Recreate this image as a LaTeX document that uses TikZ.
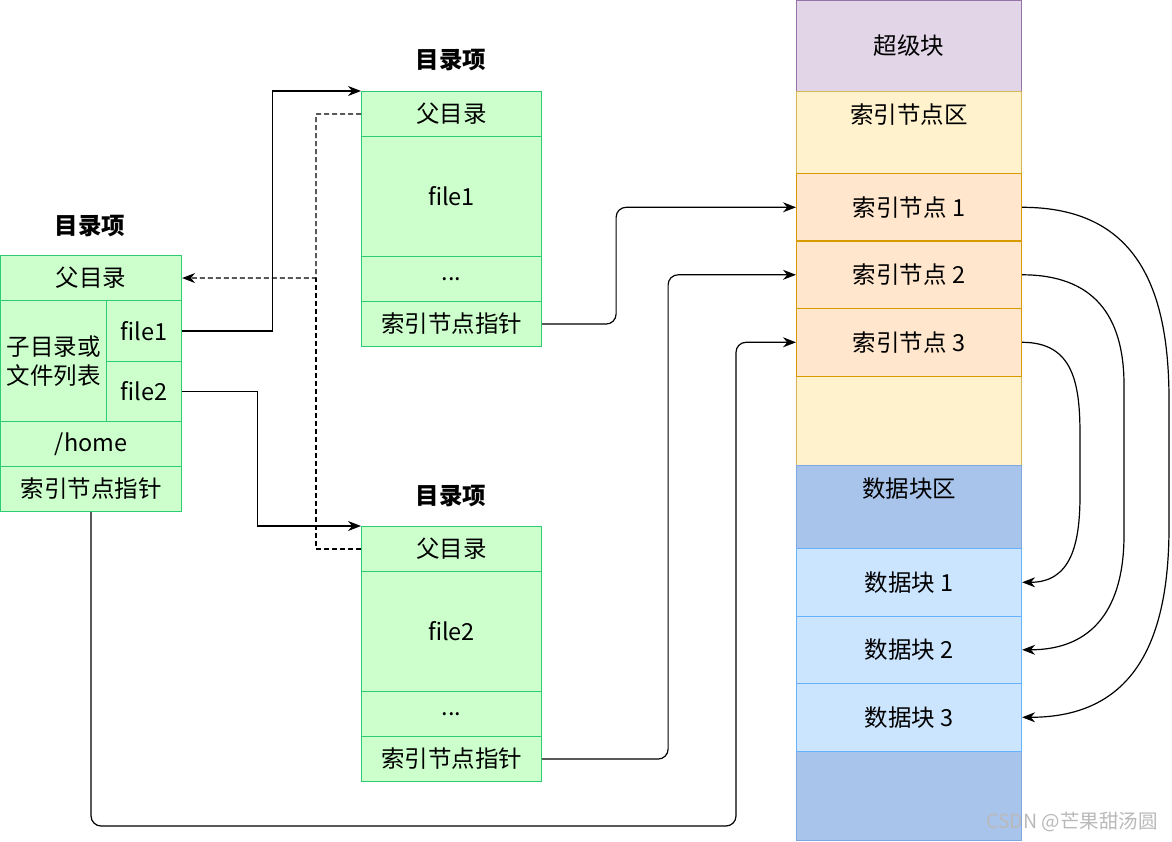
\documentclass[tikz,border=0pt]{standalone}
\usepackage{fontspec}
\setmainfont{Noto Sans CJK SC}
\usetikzlibrary{arrows.meta}

\definecolor{greenfill}{HTML}{CCFFCC}
\definecolor{greenline}{HTML}{2ECC71}
\definecolor{purplefill}{HTML}{E1D5E7}
\definecolor{purpleline}{HTML}{9673A6}
\definecolor{yellowfill}{HTML}{FFF2CC}
\definecolor{yellowline}{HTML}{D6B656}
\definecolor{orangefill}{HTML}{FFE6CC}
\definecolor{orangeline}{HTML}{D79B00}
\definecolor{bluefill}{HTML}{A9C4EB}
\definecolor{blueline}{HTML}{7EA6E0}
\definecolor{lightbluefill}{HTML}{CCE5FF}
\definecolor{lightblueline}{HTML}{66B2FF}

\tikzset{
  cell/.style={draw, line width=1.1pt, inner sep=0pt, anchor=north west,
    minimum width=180pt, font=\fontsize{23.5}{29}\selectfont},
  greencell/.style={cell, draw=greenline, fill=greenfill},
  purplecell/.style={cell, draw=purpleline, fill=purplefill, minimum width=225pt},
  yellowcell/.style={cell, draw=yellowline, fill=yellowfill, minimum width=225pt},
  inodecell/.style={cell, draw=orangeline, fill=orangefill, minimum width=225pt, minimum height=67.5pt},
  bluecell/.style={cell, draw=blueline, fill=bluefill, minimum width=225pt},
  datacell/.style={cell, draw=lightblueline, fill=lightbluefill, minimum width=225pt, minimum height=67.5pt},
  title/.style={font=\fontsize{23.5}{28}\selectfont\bfseries},
  link/.style={line width=1.2pt, -{Stealth[length=13pt,width=10pt]}},
  backlink/.style={line width=1.2pt, dashed, dash pattern=on 5pt off 3pt},
}

\begin{document}
\begin{tikzpicture}[x=1pt, y=-1pt]
  \useasboundingbox (0,0) rectangle (1172,842);

  % Directory entry on the left
  \node[title] (ltitle) at (90,226) {目录项};
  \node[greencell, minimum width=181pt, minimum height=45pt] (lparent) at (0,255) {父目录};
  \node[greencell, minimum width=106pt, minimum height=121pt, align=center] (llist) at (0,300) {子目录或\\文件列表};
  \node[greencell, minimum width=75pt, minimum height=61pt] (lfileone) at (106,300) {file1};
  \node[greencell, minimum width=75pt, minimum height=60pt] (lfiletwo) at (106,361) {file2};
  \node[greencell, minimum width=181pt, minimum height=45pt] (lhome) at (0,421) {/home};
  \node[greencell, minimum width=181pt, minimum height=45pt] (lptr) at (0,466) {索引节点指针};

  % Directory entry of file1
  \node[title] (ttitle) at (451,60) {目录项};
  \node[greencell, minimum height=45pt] (tparent) at (361,91) {父目录};
  \node[greencell, minimum height=120pt] (tfile) at (361,136) {file1};
  \node[greencell, minimum height=45pt] (tdots) at (361,256) {...};
  \node[greencell, minimum height=45pt] (tptr) at (361,301) {索引节点指针};

  % Directory entry of file2
  \node[title] (btitle) at (451,496) {目录项};
  \node[greencell, minimum height=45pt] (bparent) at (361,526) {父目录};
  \node[greencell, minimum height=120pt] (bfile) at (361,571) {file2};
  \node[greencell, minimum height=45pt] (bdots) at (361,691) {...};
  \node[greencell, minimum height=45pt] (bptr) at (361,736) {索引节点指针};

  % Disk layout
  \node[purplecell, minimum height=91pt] (sblock) at (796,0) {超级块};
  \node[yellowcell, minimum height=374pt,
    label={[anchor=north, inner sep=0pt, yshift=-13pt, font=\fontsize{23.5}{28}\selectfont]north:索引节点区}] (inodearea) at (796,91) {};
  \foreach \i in {1,2,3}
  {
    \node[inodecell] (inode\i) at (796,{173+67.5*(\i-1)}) {索引节点 \i};
  }
  \node[bluecell, minimum height=375pt,
    label={[anchor=north, inner sep=0pt, yshift=-13pt, font=\fontsize{23.5}{28}\selectfont]north:数据块区}] (dataarea) at (796,465) {};
  \foreach \i in {1,2,3}
  {
    \node[datacell] (data\i) at (796,{548+67.5*(\i-1)}) {数据块 \i};
  }

  % Links between directory entries
  \draw[link] (lfileone.east) -- ++(90,0) |- (tparent.north west);
  \draw[link] (lfiletwo.east) -- ++(75,0) |- (bparent.north west);
  \coordinate (dashjoin) at (316,278);
  \draw[backlink, -{Stealth[length=13pt,width=10pt]}] (tparent.west) -| (dashjoin) -- (lparent.east);
  \draw[backlink] (bparent.west) -| (dashjoin);

  % Inode pointers
  \draw[link, rounded corners=10pt] (tptr.east) -- ++(74,0) |- (inode1.west);
  \draw[link, rounded corners=10pt] (bptr.east) -- ++(126,0) |- (inode2.west);
  \coordinate (ptrturn) at (736,826);
  \draw[link, rounded corners=10pt] (lptr.south) |- (ptrturn) |- (inode3.west);

  % Inodes to data blocks
  \coordinate (outtop) at (1169,400);
  \coordinate (outbot) at (1169,527);
  \coordinate (midtop) at (1124,385);
  \coordinate (midbot) at (1124,535);
  \coordinate (intop) at (1080,435);
  \coordinate (inbot) at (1080,495);
  \draw[link] (inode1.east) to[out=0,in=90,looseness=1.2] (outtop) -- (outbot) to[out=-90,in=0,looseness=1.2] (data3.east);
  \draw[link] (inode2.east) to[out=0,in=90,looseness=1.2] (midtop) -- (midbot) to[out=-90,in=0,looseness=1.2] (data2.east);
  \draw[link] (inode3.east) to[out=0,in=90,looseness=1.2] (intop) -- (inbot) to[out=-90,in=0,looseness=1.2] (data1.east);

  \node[text=gray!55, font=\fontsize{19.5}{23}\selectfont] (mark) at (1072,822) {CSDN @芒果甜汤圆};
\end{tikzpicture}
\end{document}
